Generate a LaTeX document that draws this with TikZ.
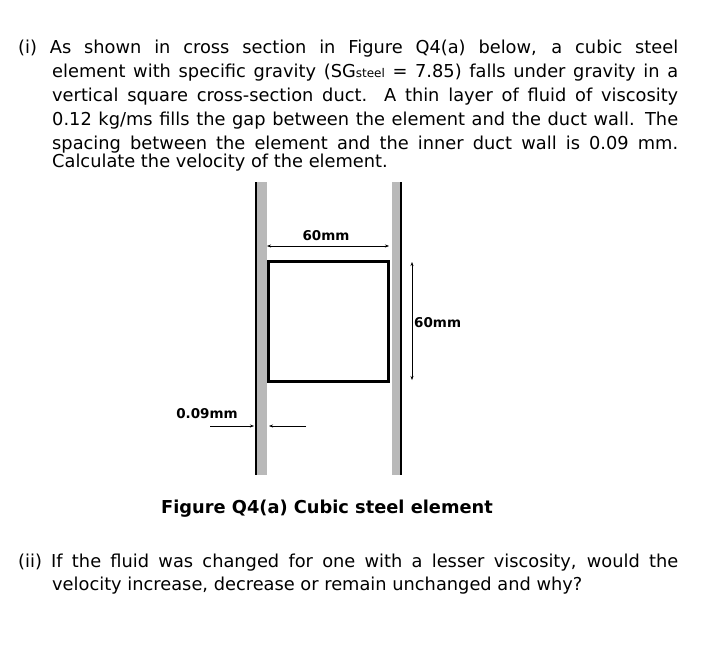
\documentclass[tikz,border=0pt]{standalone}
\usepackage{fontspec}
\setmainfont{DejaVu Sans}
\usetikzlibrary{arrows.meta}
\begin{document}
\begin{tikzpicture}[x=1pt,y=-1pt,
  txt/.style={anchor=west,inner sep=0pt,font=\fontsize{17.8}{20}\selectfont},
  lab/.style={inner sep=0pt,font=\bfseries\fontsize{13.5}{15}\selectfont},
  dim/.style={-{Stealth[length=4pt,width=3pt]},line width=0.5pt},
  wall/.style={fill=gray!55,draw=none}]
\useasboundingbox (0,0) rectangle (712,646);
\node[txt] (t1) at (18,49) {\makebox[660pt][s]{(i) As shown in cross section in Figure Q4(a) below, a cubic steel}};
\node[txt] (t2) at (52,73) {\makebox[626pt][s]{element with specific gravity (SG{\fontsize{12}{12}\selectfont steel} = 7.85) falls under gravity in a}};
\node[txt] (t3) at (52,97) {\makebox[626pt][s]{vertical square cross-section duct. A thin layer of fluid of viscosity}};
\node[txt] (t4) at (52,121) {\makebox[626pt][s]{0.12 kg/ms fills the gap between the element and the duct wall. The}};
\node[txt] (t5) at (52,145) {\makebox[626pt][s]{spacing between the element and the inner duct wall is 0.09 mm.}};
\node[txt] (t6) at (52,163) {Calculate the velocity of the element.};
% walls
\fill[wall] (257,182) rectangle (267,475);
\fill[wall] (392,182) rectangle (401,475);
\draw[line width=2pt] (256,182) -- (256,475);
\draw[line width=2pt] (401,182) -- (401,475);
% cube
\node[draw,line width=2.5pt,minimum width=120pt,minimum height=120pt,inner sep=0pt] (cube) at (328.5,321.5) {};
% dims
\coordinate (wa) at (267,246); \coordinate (wb) at (389,246);
\draw[dim,{Stealth[length=4pt,width=3pt]}-{Stealth[length=4pt,width=3pt]}] (wa) -- (wb);
\node[lab] (lw) at (326,236) {60mm};
\coordinate (ha) at (412,262); \coordinate (hb) at (412,380);
\draw[dim,{Stealth[length=4pt,width=3pt]}-{Stealth[length=4pt,width=3pt]}] (ha) -- (hb);
\node[lab,anchor=west] (lh) at (414,323) {60mm};
\node[lab] (lg) at (207,414) {0.09mm};
\coordinate (g1) at (210,426); \coordinate (g2) at (254,426);
\coordinate (g3) at (306,426); \coordinate (g4) at (269,426);
\draw[dim] (g1) -- (g2);
\draw[dim] (g3) -- (g4);
\node[inner sep=0pt,font=\bfseries\fontsize{17.8}{20}\selectfont] (cap) at (327,509) {Figure Q4(a) Cubic steel element};
\node[txt] (u1) at (18,563) {\makebox[660pt][s]{(ii) If the fluid was changed for one with a lesser viscosity, would the}};
\node[txt] (u2) at (52,586) {velocity increase, decrease or remain unchanged and why?};
\end{tikzpicture}
\end{document}
